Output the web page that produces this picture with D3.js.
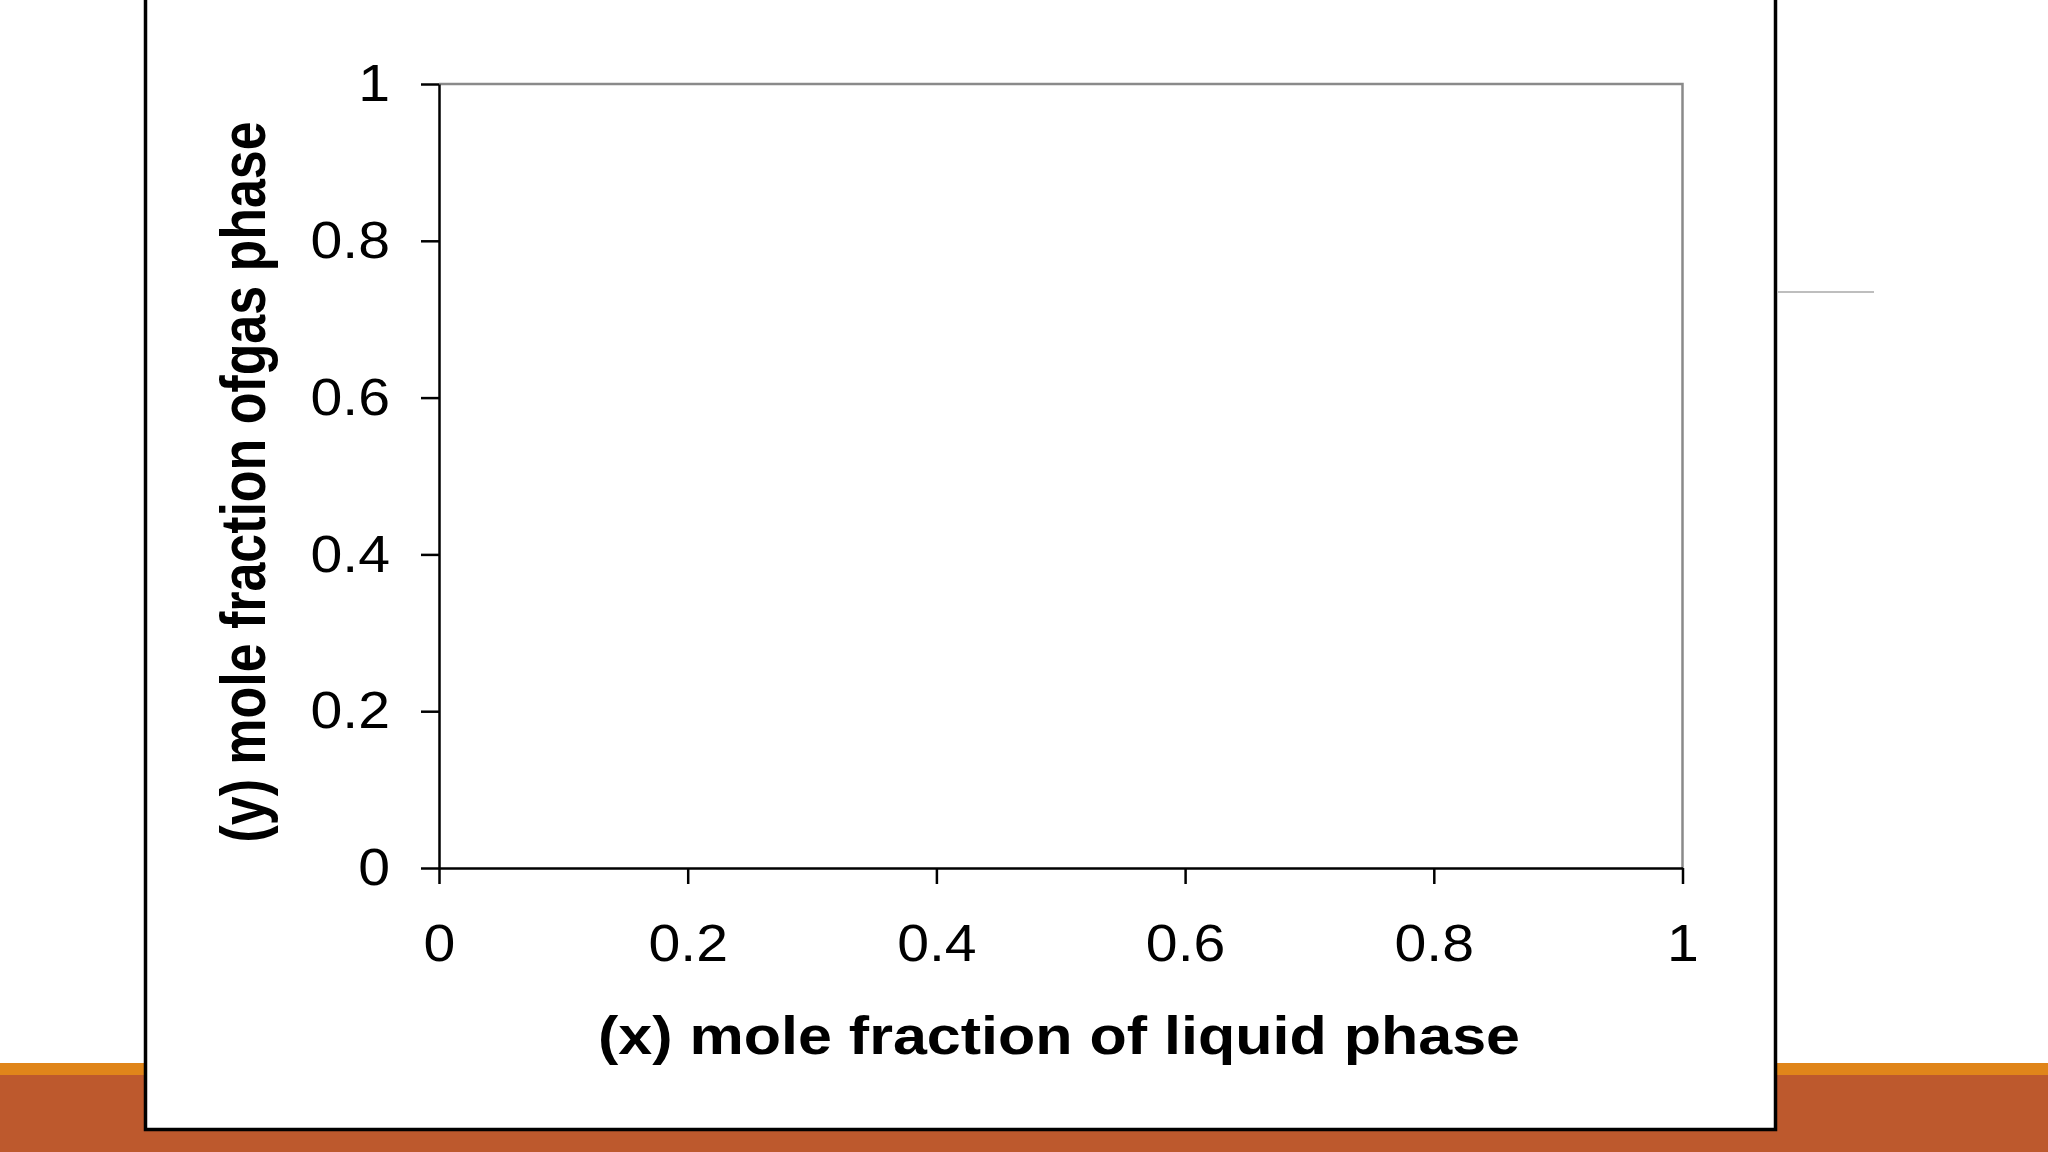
<!DOCTYPE html>
<html><head><meta charset="utf-8">
<script src="https://cdn.jsdelivr.net/npm/d3@7"></script>
<style>html,body{margin:0;padding:0;background:#fff;}svg{display:block}</style>
</head><body>
<svg id="c" width="2048" height="1152"></svg>
<script>
// ---- data (the reference chart is an empty x-y diagram: no plotted series) ----
const xDomain = [0, 1];
const yDomain = [0, 1];
const xTickValues = [0, 0.2, 0.4, 0.6, 0.8, 1];
const yTickValues = [0, 0.2, 0.4, 0.6, 0.8, 1];
const xTickLabels = ["0", "0.2", "0.4", "0.6", "0.8", "1"];
const yTickLabels = ["0", "0.2", "0.4", "0.6", "0.8", "1"];
const seriesX = [];
const seriesY = [];
const xTitle = "(x) mole fraction of liquid phase";
const yTitle = "(y) mole fraction ofgas phase";

const svg = d3.select("#c");
const FONT = "'Liberation Sans', Arial, sans-serif";
const STRETCH = 1.1;

// slide decoration bands
svg.append("rect").attr("x", 0).attr("y", 1063).attr("width", 2048).attr("height", 12).attr("fill", "#E0851A");
svg.append("rect").attr("x", 0).attr("y", 1075).attr("width", 2048).attr("height", 77).attr("fill", "#BD592D");

// chart frame
svg.append("rect").attr("x", 145.5).attr("y", -2).attr("width", 1630).attr("height", 1131.5)
  .attr("fill", "#fff").attr("stroke", "#000").attr("stroke-width", 3.5);

// thin stray line at right
svg.append("line").attr("x1", 1778).attr("x2", 1874).attr("y1", 292).attr("y2", 292)
  .attr("stroke", "#a8a8a8").attr("stroke-width", 1.5);

const x = d3.scaleLinear().domain(xDomain).range([439, 1682.5]);
const y = d3.scaleLinear().domain(yDomain).range([868, 84]);

// top/right plot border (gray)
svg.append("path")
  .attr("d", `M${x(xDomain[0])},${y(yDomain[1])}H${x(xDomain[1])}V${y(yDomain[0])}`)
  .attr("fill", "none").attr("stroke", "#8a8a8a").attr("stroke-width", 2.5);

// series (none in the reference)
svg.append("g").selectAll("circle").data(seriesX.map((d, i) => [d, seriesY[i]])).join("circle")
  .attr("cx", d => x(d[0])).attr("cy", d => y(d[1])).attr("r", 5);

function stretchText(sel) {
  sel.each(function () {
    const w = this.getComputedTextLength();
    d3.select(this).attr("textLength", w * STRETCH).attr("lengthAdjust", "spacingAndGlyphs");
  });
}

const xAxis = d3.axisBottom(x).tickValues(xTickValues)
  .tickFormat((d, i) => xTickLabels[i]).tickSizeInner(16).tickSizeOuter(0).tickPadding(40);
const gx = svg.append("g").attr("transform", `translate(0,${y(yDomain[0])})`).call(xAxis);
gx.select(".domain").attr("stroke", "#000").attr("stroke-width", 2.5);
gx.selectAll(".tick line").attr("stroke", "#000").attr("stroke-width", 2.5);
gx.selectAll(".tick text").attr("font-family", FONT).attr("font-size", 52).attr("fill", "#000");
stretchText(gx.selectAll(".tick text"));

const yAxis = d3.axisLeft(y).tickValues(yTickValues)
  .tickFormat((d, i) => yTickLabels[i]).tickSizeInner(18).tickSizeOuter(0).tickPadding(31);
const gy = svg.append("g").attr("transform", `translate(${x(xDomain[0])},0)`).call(yAxis);
gy.select(".domain").attr("stroke", "#000").attr("stroke-width", 2.5);
gy.selectAll(".tick line").attr("stroke", "#000").attr("stroke-width", 2.5);
gy.selectAll(".tick text").attr("font-family", FONT).attr("font-size", 52).attr("fill", "#000");
stretchText(gy.selectAll(".tick text"));

// axis titles
svg.append("text").attr("x", 1059).attr("y", 1054).attr("text-anchor", "middle")
  .attr("font-family", FONT).attr("font-weight", "bold").attr("font-size", 53).attr("fill", "#000")
  .attr("textLength", 922).attr("lengthAdjust", "spacingAndGlyphs")
  .text(xTitle);

svg.append("text").attr("transform", "translate(265,482) scale(1.2,1) rotate(-90)").attr("text-anchor", "middle")
  .attr("font-family", FONT).attr("font-weight", "bold").attr("font-size", 52).attr("fill", "#000")
  .attr("textLength", 721).attr("lengthAdjust", "spacingAndGlyphs")
  .text(yTitle);
</script>
</body></html>
